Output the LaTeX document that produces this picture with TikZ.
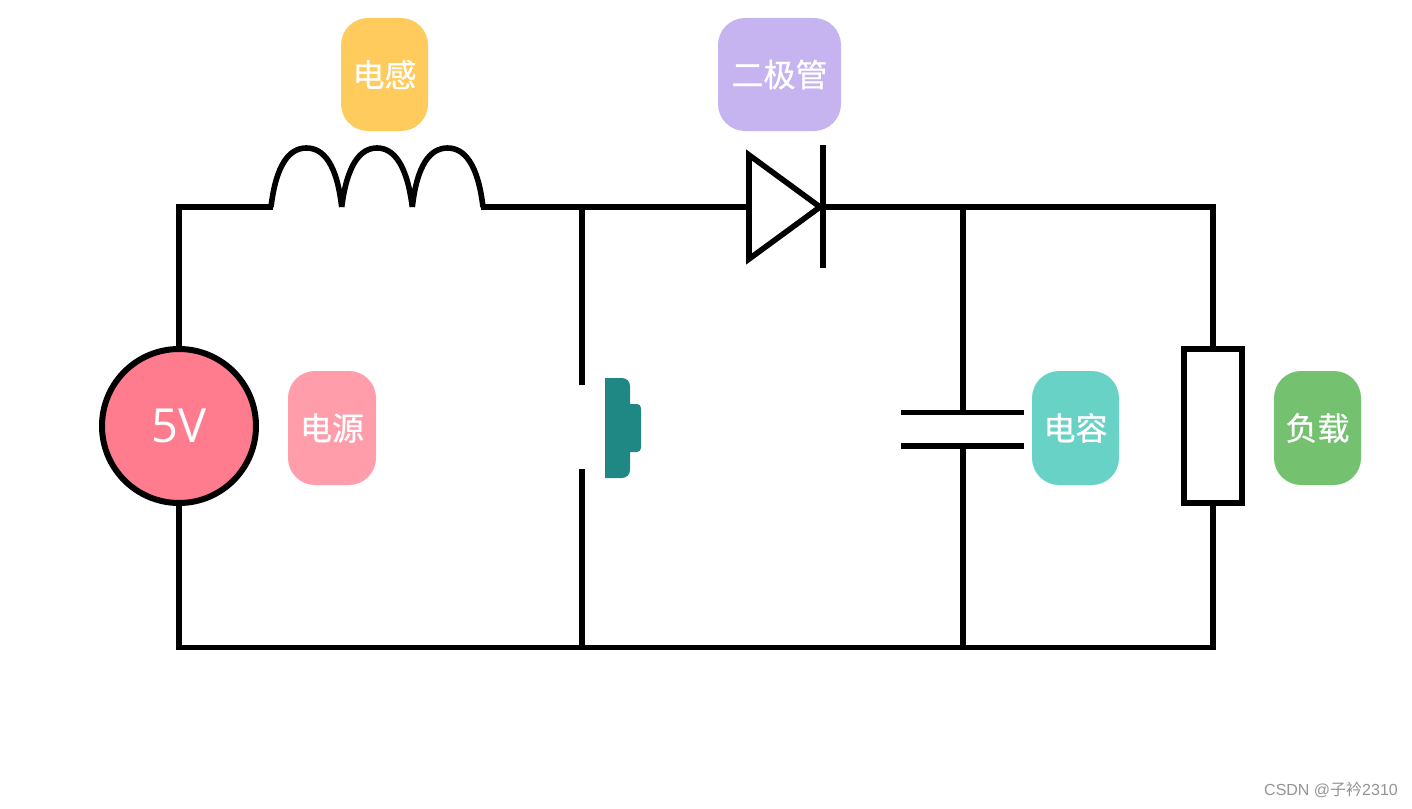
\documentclass[tikz,border=0pt]{standalone}
\usepackage{fontspec}
\setmainfont{Liberation Sans}
\newfontfamily\cjk[FakeBold=0.7]{Noto Sans CJK SC}
\newfontfamily\cjkplain{Noto Sans CJK SC}
\newfontfamily\numfont{Open Sans}
\definecolor{srcred}{HTML}{FF7B8E}
\definecolor{srcpink}{HTML}{FF9DAB}
\definecolor{indyellow}{HTML}{FFCB5C}
\definecolor{diopurple}{HTML}{C6B4F0}
\definecolor{capteal}{HTML}{69D2C7}
\definecolor{loadgreen}{HTML}{74C26F}
\definecolor{fetteal}{HTML}{1F8784}
\tikzset{
  wire/.style={draw=black,line width=5.6pt,line cap=butt,line join=miter},
  tagbox/.style={draw=none,rounded corners=27pt,text=white,font=\cjk\fontsize{32}{36}\selectfont,inner sep=0pt,anchor=center},
  fet/.style={fill=fetteal,draw=none},
  part/.style={draw=black,line width=6pt,fill=white,inner sep=0pt},
}
\begin{document}
\begin{tikzpicture}[x=1pt,y=-1pt]
\useasboundingbox (0,0) rectangle (1412,808);
% named junctions
\coordinate (tl) at (179,207);
\coordinate (bl) at (179,647.5);
\coordinate (tr) at (1213,207);
\coordinate (br) at (1213,647.5);
\coordinate (lin) at (271,207);
\coordinate (lin2) at (273,207);
\coordinate (l1) at (341.7,207);
\coordinate (l2) at (412.3,207);
\coordinate (lout) at (483,207);
\coordinate (lout2) at (481,207);
\coordinate (mt) at (582,207);
\coordinate (mb) at (582,647.5);
\coordinate (ma) at (582,385);
\coordinate (mc) at (582,469);
\coordinate (dA) at (749,207);
\coordinate (dK) at (823,207);
\coordinate (ct) at (963,207);
\coordinate (cb) at (963,647.5);
\coordinate (cu) at (963,412.5);
\coordinate (cd) at (963,446);
\coordinate (p1l) at (901,412.5);
\coordinate (p1r) at (1024,412.5);
\coordinate (p2l) at (901,446);
\coordinate (p2r) at (1024,446);
\coordinate (kt) at (823,145);
\coordinate (kb) at (823,268);
% source
\node[draw=black,line width=6pt,fill=srcred,circle,minimum size=154pt,inner sep=0pt,text=white,font=\numfont\fontsize{47}{52}\selectfont] (src) at (179,426) {5V};
% load
\node[part,minimum width=58pt,minimum height=154pt] (load) at (1213,426) {};
% wires
\draw[wire] (src.north) -- (tl) -- (lin2);
\draw[wire] (src.south) -- (bl) -- (br) -- (load.south);
\draw[wire] (load.north) -- (tr) -- (dK);
\draw[wire] (lout2) -- (dA);
\draw[wire] (mt) -- (ma);
\draw[wire] (mc) -- (mb);
\draw[wire] (ct) -- (cu);
\draw[wire] (cd) -- (cb);
\draw[wire] (p1l) -- (p1r);
\draw[wire] (p2l) -- (p2r);
% inductor
\draw[wire,line join=round]
  (lin) .. controls (276,165) and (289,148) .. (306.3,148) .. controls (324,148) and (337,165) .. (l1)
  (l1) .. controls (347,165) and (360,148) .. (377,148) .. controls (394,148) and (407,165) .. (l2)
  (l2) .. controls (417,165) and (430,148) .. (447.5,148) .. controls (465,148) and (478,165) .. (lout);
% diode
\draw[wire,fill=white] (749,155) -- (749,259) -- (820,207) -- cycle;
\draw[wire] (kt) -- (kb);
% transistor shape
\fill[fet] (605,378) [rounded corners=8pt] -- (630,378) -- (630,478) [sharp corners] -- (605,478) -- cycle;
\fill[fet] (625,404) [rounded corners=4pt] -- (641,404) -- (641,452) [sharp corners] -- (625,452) -- cycle;
% tags
\node[tagbox,fill=indyellow,minimum width=87pt,minimum height=113pt] (t1) at (384.5,74.5) {电感};
\node[tagbox,fill=diopurple,minimum width=123pt,minimum height=113pt] (t2) at (779.5,74.5) {二极管};
\node[tagbox,fill=srcpink,minimum width=88pt,minimum height=114pt] (t3) at (332,428) {电源};
\node[tagbox,fill=capteal,minimum width=87pt,minimum height=114pt] (t4) at (1075.5,428) {电容};
\node[tagbox,fill=loadgreen,minimum width=87pt,minimum height=114pt] (t5) at (1317.5,428) {负载};
% watermark
\node[text=black!42,font=\fontsize{16}{18}\selectfont,inner sep=0pt] (wm) at (1331,790) {CSDN @{\cjkplain 子衿}2310};
\end{tikzpicture}
\end{document}
